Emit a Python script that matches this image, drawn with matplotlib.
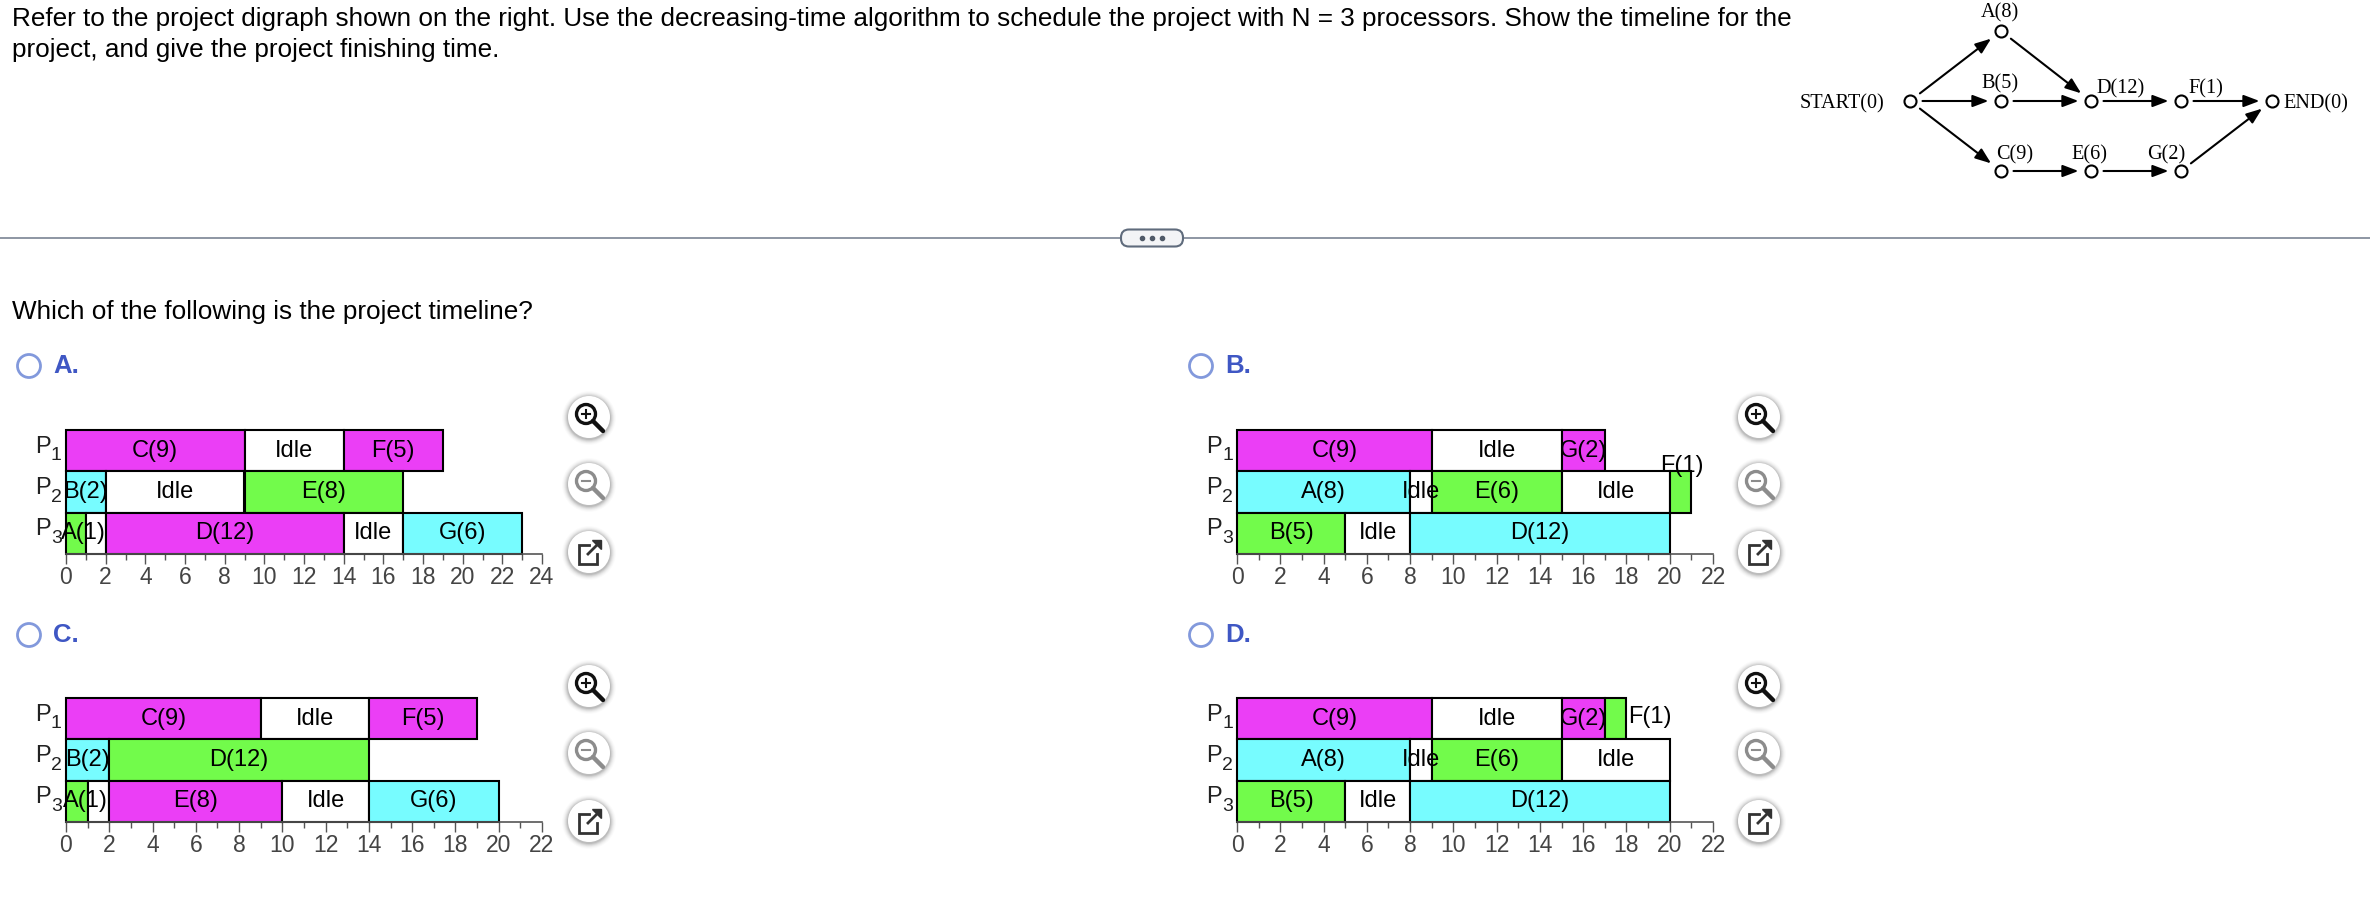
import matplotlib
matplotlib.use("Agg")
from matplotlib import pyplot as plt
from matplotlib.patches import Circle, FancyBboxPatch

# schedule of each option, one entry per block
a_rows = [0, 0, 0, 1, 1, 1, 2, 2, 2, 2, 2]
a_starts = [0, 9, 14, 0, 2, 9, 0, 1, 2, 14, 17]
a_durs = [9, 5, 5, 2, 7, 8, 1, 1, 12, 3, 6]
a_labels = ["C(9)", "Idle", "F(5)", "B(2)", "Idle", "E(8)", "A(1)", "", "D(12)", "Idle", "G(6)"]

b_rows = [0, 0, 0, 1, 1, 1, 1, 1, 2, 2, 2]
b_starts = [0, 9, 15, 0, 8, 9, 15, 20, 0, 5, 8]
b_durs = [9, 6, 2, 8, 1, 6, 5, 1, 5, 3, 12]
b_labels = ["C(9)", "Idle", "G(2)", "A(8)", "Idle", "E(6)", "Idle", "F(1)", "B(5)", "Idle", "D(12)"]

c_rows = [0, 0, 0, 1, 1, 2, 2, 2, 2, 2]
c_starts = [0, 9, 14, 0, 2, 0, 1, 2, 10, 14]
c_durs = [9, 5, 5, 2, 12, 1, 1, 8, 4, 6]
c_labels = ["C(9)", "Idle", "F(5)", "B(2)", "D(12)", "A(1)", "", "E(8)", "Idle", "G(6)"]

d_rows = [0, 0, 0, 0, 1, 1, 1, 1, 2, 2, 2]
d_starts = [0, 9, 15, 17, 0, 8, 9, 15, 0, 5, 8]
d_durs = [9, 6, 2, 1, 8, 1, 6, 5, 5, 3, 12]
d_labels = ["C(9)", "Idle", "G(2)", "F(1)", "A(8)", "Idle", "E(6)", "Idle", "B(5)", "Idle", "D(12)"]

proc_subs = ["1", "2", "3"]
question = ["Refer to the project digraph shown on the right. Use the decreasing-time algorithm to schedule the project with N = 3 processors. Show the timeline for the",
            "project, and give the project finishing time."]
prompt = "Which of the following is the project timeline?"

# digraph
node_names = ["S", "A", "B", "C", "D", "E", "F", "G", "T"]
node_texts = ["START(0)", "A(8)", "B(5)", "C(9)", "D(12)", "E(6)", "F(1)", "G(2)", "END(0)"]
edges = [("S", "A"), ("S", "B"), ("S", "C"), ("A", "D"), ("B", "D"), ("C", "E"),
         ("D", "F"), ("E", "G"), ("F", "T"), ("G", "T")]

W, H = 2370, 910
M, C, G, N = "#EB3EF6", "#77FCFF", "#72FB4B", "white"
a_colors = [M, N, M, C, N, G, G, N, M, N, C]
b_colors = [M, N, M, C, N, G, N, G, G, N, C]
c_colors = [M, N, M, C, G, G, N, M, N, C]
d_colors = [M, N, M, G, C, N, G, N, G, N, C]
TICK = "#555555"
BLUE = "#3F57C4"
PX = 0.72  # points per pixel

plt.rcParams["font.family"] = "Liberation Sans"

fig = plt.figure(figsize=(W / 100, H / 100), dpi=100)
bg = fig.add_axes([0, 0, 1, 1])
bg.set_xlim(0, W)
bg.set_ylim(H, 0)
bg.axis("off")


def draw_panel(x0, x1, y0, y1, rows, starts, durs, labels, colors, xmax, nudge):
    ax = fig.add_axes([x0 / W, 1 - y1 / H, (x1 - x0) / W, (y1 - y0) / H])
    ax.patch.set_alpha(0)
    ax.barh([r + 0.5 for r in rows], durs, left=starts, height=1, color=colors,
            edgecolor="black", linewidth=1.5, clip_on=False, zorder=2)
    for r, s, d, t in zip(rows, starts, durs, labels):
        dx, dy = nudge.get(t + str(r), (0, 0))
        ax.text(s + d / 2 + dx, r + 0.5 + dy, t, ha="center", va="center",
                fontsize=17, color="black", zorder=3, clip_on=False)
    ax.set_xlim(0, xmax)
    ax.set_ylim(3, 0)
    ax.set_xticks(range(0, xmax + 1, 2))
    ax.set_xticks(range(1, xmax, 2), minor=True)
    ax.tick_params(axis="x", which="major", length=7.5, width=1, color=TICK,
                   labelcolor="#444444", labelsize=16.5, pad=1.5)
    ax.tick_params(axis="x", which="minor", length=4.5, width=1, color=TICK)
    ax.set_yticks([])
    for i, sub in enumerate(proc_subs):
        ax.annotate("P", xy=(0, i + 0.5), xycoords=ax.get_yaxis_transform(),
                    xytext=(-31 * PX, 4 * PX), textcoords="offset points",
                    ha="left", va="center", fontsize=17, color="#222222")
        ax.annotate(sub, xy=(0, i + 0.5), xycoords=ax.get_yaxis_transform(),
                    xytext=(-15 * PX, -5 * PX), textcoords="offset points",
                    ha="left", va="center", fontsize=14, color="#222222")
    for s in ["left", "top", "right"]:
        ax.spines[s].set_visible(False)
    ax.spines["bottom"].set_color(TICK)
    ax.spines["bottom"].set_linewidth(1.2)
    return ax


def draw_button(cx, cy, kind):
    for r, a in [(27, 0.015), (26, 0.025), (25, 0.035), (24, 0.05), (23, 0.07), (22, 0.09)]:
        bg.add_patch(Circle((cx, cy + 1), r, fc="black", ec="none", alpha=a))
    bg.add_patch(Circle((cx, cy), 21, fc="white", ec="none"))
    col = {"in": "#111111", "out": "#8C8C8C", "ext": "#333333"}[kind]
    if kind == "ext":
        bg.plot([cx, cx - 10, cx - 10, cx + 8, cx + 8],
                [cy - 7, cy - 7, cy + 12, cy + 12, cy + 2], color=col, lw=2, solid_joinstyle="miter")
        bg.plot([cx - 1, cx + 10], [cy + 2, cy - 9], color=col, lw=2)
        bg.fill([cx + 3, cx + 12, cx + 12], [cy - 12, cy - 12, cy - 3], color=col)
    else:
        bg.add_patch(Circle((cx - 3, cy - 3), 9.5, fc="none", ec=col, lw=2.4))
        bg.plot([cx + 4, cx + 14], [cy + 4, cy + 14], color=col, lw=3.2, solid_capstyle="round")
        bg.plot([cx - 7, cx + 1], [cy - 3, cy - 3], color=col, lw=1.5)
        if kind == "in":
            bg.plot([cx - 3, cx - 3], [cy - 7, cy + 1], color=col, lw=1.5)


def draw_option(cx, cy, letter):
    bg.add_patch(Circle((cx, cy), 11.5, fc="white", ec="#8299DC", lw=2))
    bg.text(cx + 24, cy, letter, ha="left", va="center", fontsize=18.5, fontweight="bold", color=BLUE)


# text at the top
for i, line in enumerate(question):
    bg.text(12, 19 + 31.5 * i, line, ha="left", va="center", fontsize=18.8, color="black")
bg.text(12, 312, prompt, ha="left", va="center", fontsize=18.8, color="black")

# separator
bg.plot([0, W], [238, 238], color="#858E9C", lw=1.3, zorder=1)
bg.add_patch(FancyBboxPatch((1121, 229.5), 62, 17, boxstyle="round,pad=0,rounding_size=8",
                            fc="#F3F4F6", ec="#5F6B7C", lw=1.5, zorder=2))
bg.scatter([1142, 1152, 1162], [238, 238, 238], s=9, color="#505A68", zorder=3)

# four options
draw_option(29, 366, "A.")
draw_option(1201, 366, "B.")
draw_option(29, 635, "C.")
draw_option(1201, 635, "D.")

draw_panel(66, 542, 430, 554, a_rows, a_starts, a_durs, a_labels, a_colors, 24, {"A(1)2": (0.4, 0)})
draw_panel(1237, 1713, 430, 554, b_rows, b_starts, b_durs, b_labels, b_colors, 22,
           {"F(1)1": (0.05, -0.62)})
draw_panel(66, 542, 698, 822, c_rows, c_starts, c_durs, c_labels, c_colors, 22, {"A(1)2": (0.4, 0)})
draw_panel(1237, 1713, 698, 822, d_rows, d_starts, d_durs, d_labels, d_colors, 22, {"F(1)0": (1.57, -0.05)})

for bx in [589, 1759]:
    for by, kind in [(417, "in"), (484, "out"), (552, "ext")]:
        draw_button(bx, by, kind)
    for by, kind in [(686, "in"), (753, "out"), (821, "ext")]:
        draw_button(bx, by, kind)

# digraph, placed in picture pixels
node_x = [1910, 2001, 2001, 2001, 2091, 2091, 2181, 2181, 2272]
node_y = [101, 31, 101, 171, 101, 171, 101, 171, 101]
text_x = [1842, 2000, 2000, 2015, 2121, 2089, 2206, 2166, 2283]
text_y = [104, 13, 84, 155, 89, 155, 89, 155, 104]
pos = dict(zip(node_names, zip(node_x, node_y)))
bg.scatter(node_x, node_y, s=75, facecolor="white", edgecolor="black", linewidth=1.5, zorder=3)
for a, b in edges:
    bg.annotate("", xy=pos[b], xytext=pos[a],
                arrowprops=dict(arrowstyle="-|>,head_length=0.95,head_width=0.36", color="black", lw=1.5,
                                shrinkA=9, shrinkB=9), zorder=2)
for n, t, x, y in zip(node_names, node_texts, text_x, text_y):
    ha = "left" if n == "T" else "center"
    bg.text(x, y, t, ha=ha, va="center", fontsize=14.6, family="Liberation Serif", color="black")

fig.savefig("out.png", dpi=100)
